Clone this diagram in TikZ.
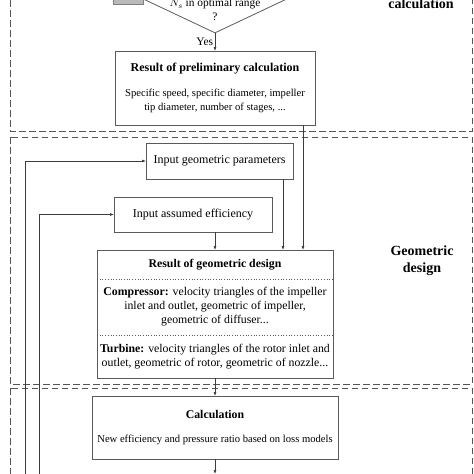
\documentclass[tikz,border=0pt]{standalone}
\usepackage{fontspec}
\setmainfont{Liberation Serif}
\usetikzlibrary{arrows.meta,positioning,calc,shapes.geometric}
\definecolor{flow}{HTML}{3C3C3C}
\definecolor{edge}{HTML}{5A5A5A}
\definecolor{zone}{HTML}{555555}

\begin{document}
\begin{tikzpicture}[x=1pt, y=-1pt, >={Latex[length=4pt,width=3pt]},
  font=\fontsize{10.6}{14.5}\selectfont,
  box/.style={draw=edge, line width=0.8pt, inner sep=0pt, outer sep=0pt, align=center},
  part/.style={inner sep=0pt, outer sep=0pt, align=center, minimum width=236pt,
    font=\fontsize{11.8}{14}\selectfont},
  link/.style={->, draw=flow, line width=0.6pt},
  area/.style={draw=zone, line width=1pt, dash pattern=on 6.5pt off 3.5pt},
  stage/.style={font=\fontsize{14}{17}\selectfont\bfseries, align=center}]
\useasboundingbox (0,0) rectangle (474,474);
\clip (0,0) rectangle (474,474);
\draw[area] (10,-20) rectangle (472,131);
\draw[area] (10,137) rectangle (472,384);
\draw[area] (10,388) rectangle (472,500);
\node[draw=gray, fill=gray!55, minimum width=30pt, minimum height=20pt, inner sep=0pt] (nobox) at (128,-6) {};
\node[diamond, draw=edge, line width=0.8pt, minimum width=148pt, minimum height=70pt, inner sep=0pt] (chk) at (215,-2) {};
\node[align=center, inner sep=0pt, font=\fontsize{11.4}{14}\selectfont] (chkq) at (215,10) {$N_s$ in optimal range\\?};
\node[box, minimum width=200pt, minimum height=74pt] (pre) at (215,88)
  {\textbf{\fontsize{12}{14}\selectfont Result of preliminary calculation}\\[10pt]
   Specific speed, specific diameter, impeller\\ tip diameter, number of stages, ...};
\node[stage, anchor=base] (prelab) at (421,8.5) {calculation};
\node[box, minimum width=147pt, minimum height=36pt, font=\fontsize{12}{14}\selectfont] (geo) at (219.5,161) {Input geometric parameters};
\node[box, minimum width=158pt, minimum height=35pt, font=\fontsize{12}{14}\selectfont] (eff) at (193,214.5) {Input assumed efficiency};
\node[part, minimum height=29pt, anchor=north west] (ghead) at (97,250)
  {\textbf{Result of geometric design}};
\node[part, minimum height=56pt, below=0pt of ghead] (gcomp)
  {\textbf{Compressor:} velocity triangles of the impeller\\ inlet and outlet, geometric of impeller,\\ geometric of diffuser...};
\node[part, minimum height=43pt, below=0pt of gcomp] (gturb)
  {\textbf{Turbine:} velocity triangles of the rotor inlet and\\ outlet, geometric of rotor, geometric of nozzle...};
\draw[edge, line width=0.8pt] (ghead.north west) rectangle (gturb.south east);
\draw[edge, dotted, line width=0.7pt] (gcomp.north west) -- (gcomp.north east);
\draw[edge, dotted, line width=0.7pt] (gturb.north west) -- (gturb.north east);
\node[stage] (geolab) at (422,261) {Geometric\\design};
\node[box, minimum width=246pt, minimum height=63pt] (calc) at (215,427.5)
  {\textbf{\fontsize{11.8}{14}\selectfont Calculation}\\[9pt]
   New efficiency and pressure ratio based on loss models};
\coordinate (ret1) at (25,480);
\coordinate (ret2) at (39,480);
\coordinate (nxt) at (215,474);
\draw[link] (chk.south) -- node[left, inner sep=1.5pt, font=\fontsize{11.5}{14}\selectfont] {Yes} (pre.north);
\draw[link] ([xshift=-12pt]pre.south east) -- ([xshift=-12pt]pre.south east |- ghead.north);
\draw[link] ([xshift=-10pt]geo.south east) -- ([xshift=-10pt]geo.south east |- ghead.north);
\draw[link] (eff.south -| ghead.north) -- (ghead.north);
\draw[link] (ret1) |- (geo.west);
\draw[link] (ret2) |- (eff.west);
\draw[link] (gturb.south) -- (calc.north);
\draw[link] (calc.south) -- (nxt);
\end{tikzpicture}
\end{document}
